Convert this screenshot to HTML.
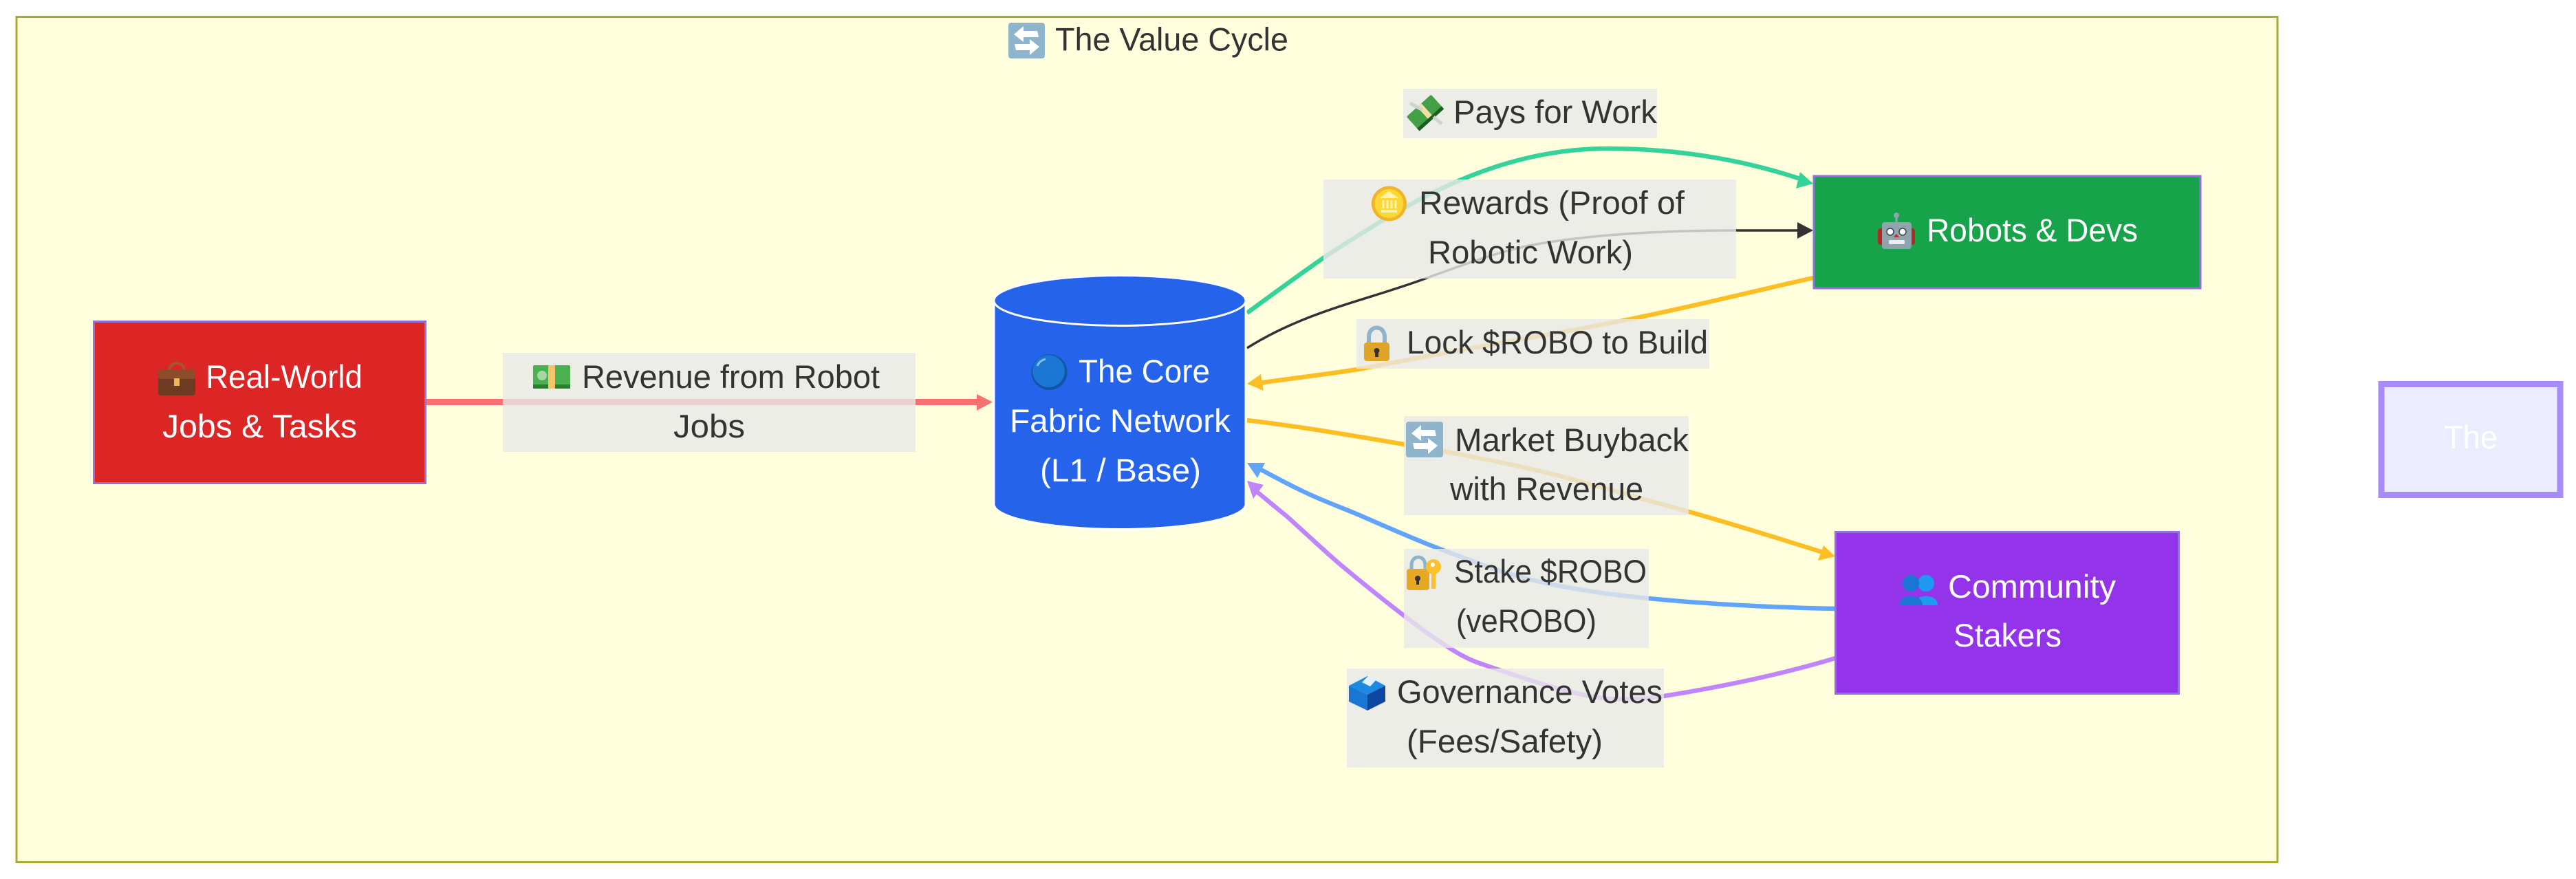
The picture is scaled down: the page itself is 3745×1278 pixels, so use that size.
<!DOCTYPE html>
<html>
<head>
<meta charset="utf-8">
<title>The Value Cycle</title>
<style>
html,body{margin:0;padding:0;background:#fff;width:3745px;height:1278px;overflow:hidden}
svg{display:block}
text{font-family:"Liberation Sans",sans-serif;font-size:47px}
.d{fill:#333}
.w{fill:#fff}
.l{fill:#e8e8e8;fill-opacity:.8}
.e{fill:none}
</style>
</head>
<body>
<svg xmlns="http://www.w3.org/2000/svg" width="3745" height="1278" viewBox="0 0 3745 1278">
<rect width="3745" height="1278" fill="#fff"/>
<!-- cluster -->
<rect x="24" y="24.500" width="3287" height="1229" fill="#ffffde" stroke="#aaaa33" stroke-width="3"/>

<!-- edges -->
<path class="e" stroke="#f87171" stroke-width="9" d="M619,584.500 L1424,584.500"/>
<polygon fill="#f87171" points="1443,584.500 1420,573 1420,597"/>

<path class="e" stroke="#34d399" stroke-width="6.500" d="M1813,455 C1850,428 1885,402 1924,375 C1991,331 2058,289 2125,261 C2196,231 2266,216 2337,216 C2431,216 2528,230 2620,261"/>
<polygon fill="#34d399" points="2636,267 2617,250 2611,274"/>

<path class="e" stroke="#333" stroke-width="3.500" d="M1813,506 C1899,452 1986,437 2072,405 C2130,384 2180,365 2229,356 C2300,343 2400,335 2524,335 L2615,335"/>
<polygon fill="#333" points="2636,335 2613,323 2613,347"/>

<path class="e" stroke="#fbbf24" stroke-width="6.500" d="M2636,404 C2547,424 2459,446 2370,464 C2240,490 2110,510 1980,536 C1932,544 1885,549 1830,557"/>
<polygon fill="#fbbf24" points="1813,558 1833,544 1837,568"/>

<path class="e" stroke="#fbbf24" stroke-width="6.500" d="M1813,611 C1889,620 1965,633 2041,646 C2103,656.500 2164,668 2226,682 C2284,695 2343,713 2401,729 C2484,751 2567,777 2650,803"/>
<polygon fill="#fbbf24" points="2668,809 2651,793 2643,815"/>

<path class="e" stroke="#60a5fa" stroke-width="6.500" d="M2668,885 C2578,883 2487,879 2397,870 C2340,864.600 2283,856.500 2226,843 C2182,832.600 2137,814.500 2093,798 C2056,784 2018,767 1981,751 C1954,739 1927,730 1900,717 C1876,706 1852,693 1828,680"/>
<polygon fill="#60a5fa" points="1813,673 1839,673 1828,695"/>

<path class="e" stroke="#c084fc" stroke-width="6.500" d="M2668,957 C2585,982 2502,998.700 2419,1012 C2385,1017.400 2351,1019 2317,1013 C2261,1003 2206,983 2150,964 C2136,959 2121,951 2107,942 C2085,928 2063,912 2041,895 C2011,872 1980,847 1950,822 C1923,799 1897,774 1870,750 C1855,738 1841,726 1826,714"/>
<polygon fill="#c084fc" points="1813,699 1837,705 1822,725"/>

<!-- edge labels -->
<rect class="l" x="731" y="513" width="600" height="144"/>
<rect class="l" x="2040" y="129" width="369" height="72"/>
<rect class="l" x="1924" y="261" width="600" height="144"/>
<rect class="l" x="1972" y="464" width="513" height="72"/>
<rect class="l" x="2041" y="605" width="414" height="144"/>
<rect class="l" x="2041" y="798" width="356" height="144"/>
<rect class="l" x="1958" y="972" width="461" height="144"/>

<!-- nodes -->
<rect x="136.500" y="467.500" width="482" height="235" fill="#dc2626" stroke="#9370db" stroke-width="3"/>
<path d="M1445,437 a183,36.500 0 0 0 366,0 a183,36.500 0 0 0 -366,0 l0,296 a183,36.500 0 0 0 366,0 l0,-296" fill="#2563eb" stroke="#fff" stroke-width="3"/>
<rect x="2637" y="256" width="562" height="163" fill="#16a34a" stroke="#9370db" stroke-width="3"/>
<rect x="2668.500" y="773.500" width="499" height="235" fill="#9333ea" stroke="#9370db" stroke-width="3"/>
<rect x="3462" y="558.500" width="260" height="161" fill="#ececff" stroke="#a78bfa" stroke-width="9"/>

<!-- text -->
<text class="d" x="1534" y="73.500" textLength="339" lengthAdjust="spacingAndGlyphs">The Value Cycle</text>

<text class="w" x="299" y="564" textLength="228" lengthAdjust="spacingAndGlyphs">Real-World</text>
<text class="w" x="236" y="636" textLength="283" lengthAdjust="spacingAndGlyphs">Jobs &amp; Tasks</text>

<text class="d" x="846" y="564" textLength="433" lengthAdjust="spacingAndGlyphs">Revenue from Robot</text>
<text class="d" x="979" y="636" textLength="104" lengthAdjust="spacingAndGlyphs">Jobs</text>

<text class="w" x="1568" y="556" textLength="191" lengthAdjust="spacingAndGlyphs">The Core</text>
<text class="w" x="1468" y="628" textLength="321" lengthAdjust="spacingAndGlyphs">Fabric Network</text>
<text class="w" x="1512" y="700" textLength="234" lengthAdjust="spacingAndGlyphs">(L1 / Base)</text>

<text class="d" x="2113" y="179" textLength="296" lengthAdjust="spacingAndGlyphs">Pays for Work</text>
<text class="d" x="2063" y="311" textLength="386" lengthAdjust="spacingAndGlyphs">Rewards (Proof of</text>
<text class="d" x="2076" y="383" textLength="298" lengthAdjust="spacingAndGlyphs">Robotic Work)</text>
<text class="d" x="2045" y="514" textLength="438" lengthAdjust="spacingAndGlyphs">Lock $ROBO to Build</text>
<text class="d" x="2115" y="656" textLength="340" lengthAdjust="spacingAndGlyphs">Market Buyback</text>
<text class="d" x="2108" y="727" textLength="281" lengthAdjust="spacingAndGlyphs">with Revenue</text>
<text class="d" x="2114" y="847" textLength="280" lengthAdjust="spacingAndGlyphs">Stake $ROBO</text>
<text class="d" x="2117" y="919" textLength="204" lengthAdjust="spacingAndGlyphs">(veROBO)</text>
<text class="d" x="2031" y="1022" textLength="386" lengthAdjust="spacingAndGlyphs">Governance Votes</text>
<text class="d" x="2045" y="1094" textLength="285" lengthAdjust="spacingAndGlyphs">(Fees/Safety)</text>

<text class="w" x="2801" y="351" textLength="307" lengthAdjust="spacingAndGlyphs">Robots &amp; Devs</text>
<text class="w" x="2832" y="869" textLength="244" lengthAdjust="spacingAndGlyphs">Community</text>
<text class="w" x="2840" y="940" textLength="157" lengthAdjust="spacingAndGlyphs">Stakers</text>
<text class="w" x="3553" y="652" textLength="78" lengthAdjust="spacingAndGlyphs">The</text>

<!-- emoji icons drawn as shapes -->
<!-- title arrows -->
<g>
<rect x="1466" y="33" width="53" height="52" rx="4" fill="#8fb5cc"/>
<path d="M1474,50 L1488,38 L1488,45 L1508,45 L1510,54 L1488,54 L1488,61 Z" fill="#fff"/>
<path d="M1511,68 L1497,80 L1497,73 L1477,73 L1475,64 L1497,64 L1497,57 Z" fill="#fff"/>
</g>
<!-- market arrows -->
<g transform="translate(2044,613)">
<rect width="54" height="52" rx="4" fill="#8fb5cc"/>
<path d="M8,17 L22,5 L22,12 L42,12 L44,21 L22,21 L22,28 Z" fill="#fff"/>
<path d="M46,35 L32,47 L32,40 L12,40 L10,31 L32,31 L32,24 Z" fill="#fff"/>
</g>
<!-- briefcase -->
<path d="M246,540 C246,524 268,524 268,540" fill="none" stroke="#a0592f" stroke-width="4"/>
<rect x="230" y="537" width="54" height="38" rx="4" fill="#6d3b22"/>
<rect x="230" y="537" width="54" height="14" rx="3" fill="#8b4c2a"/>
<rect x="253" y="550" width="8" height="11" fill="#f0b35e"/>
<!-- money -->
<rect x="775" y="531" width="54" height="34" rx="2" fill="#4caf50"/>
<rect x="775" y="559" width="54" height="6" fill="#2e7d32"/>
<rect x="797" y="531" width="10" height="34" fill="#f5c46b"/>
<circle cx="788" cy="546" r="7" fill="#a5d6a7"/>
<!-- blue circle -->
<circle cx="1525.500" cy="541" r="26" fill="#1452a3"/>
<circle cx="1524.500" cy="539.500" r="23.500" fill="#1976d2"/>
<path d="M1508,532 A18,18 0 0 1 1520,522" fill="none" stroke="#8ab8ea" stroke-width="3"/>
<!-- flying money -->
<g transform="translate(2072,164) rotate(-42)">
<rect x="-24" y="-14" width="48" height="28" rx="2" fill="#43a047"/>
<rect x="-3" y="-14" width="8" height="28" fill="#f3dfa4"/>
<rect x="-24" y="9" width="48" height="5" fill="#1b5e20"/>
</g>
<path d="M2050,150 L2068,160 M2096,180 L2084,170" stroke="#cfd2ce" stroke-width="5"/>
<!-- coin -->
<circle cx="2019.500" cy="296" r="25.500" fill="#f0b429"/>
<circle cx="2019.500" cy="296" r="21" fill="#fdd835"/>
<path d="M2006,288 L2019.500,278 L2033,288 Z M2008,305 h23 v4 h-23 Z" fill="#fff3b0"/>
<path d="M2011,291 v12 M2017,291 v12 M2023,291 v12 M2029,291 v12" stroke="#fff3b0" stroke-width="3"/>
<!-- lock -->
<path d="M1990,500 V490 C1990,472 2013,472 2013,490 V500" fill="none" stroke="#8db4cc" stroke-width="6"/>
<rect x="1983" y="498" width="37" height="27" rx="4" fill="#e0a526"/>
<circle cx="2001.500" cy="510" r="4" fill="#333"/>
<rect x="1999" y="510" width="5" height="9" fill="#333"/>
<!-- lock with key -->
<path d="M2052,830 V822 C2052,806 2072,806 2072,822 V830" fill="none" stroke="#8db4cc" stroke-width="5"/>
<rect x="2045" y="827" width="33" height="31" rx="4" fill="#e6a823"/>
<circle cx="2061" cy="841" r="4" fill="#333"/>
<rect x="2059" y="841" width="4" height="9" fill="#333"/>
<circle cx="2084" cy="824" r="11" fill="#fbc02d"/>
<rect x="2081" y="830" width="6" height="26" fill="#fbc02d"/>
<circle cx="2083" cy="821" r="3" fill="#fff"/>
<!-- ballot box -->
<polygon points="1961,997 1988,983 2014,997 1988,1010" fill="#1e88e5"/>
<polygon points="1961,997 1988,1010 1988,1033 1961,1020" fill="#1976d2"/>
<polygon points="2014,997 1988,1010 1988,1033 2014,1020" fill="#0d47a1"/>
<polygon points="1980,992 1990,982 2002,987 1992,998" fill="#e3f2fd"/>
<!-- robot -->
<rect x="2730" y="332" width="10" height="24" rx="4" fill="#b02a25"/>
<rect x="2774" y="332" width="10" height="24" rx="4" fill="#b02a25"/>
<path d="M2757,312 V324" stroke="#90a4ae" stroke-width="3"/>
<circle cx="2757" cy="313" r="4" fill="#90a4ae"/>
<rect x="2736" y="323" width="43" height="39" rx="4" fill="#90a4ae"/>
<circle cx="2748" cy="337" r="5" fill="#fff" stroke="#37474f" stroke-width="1.500"/>
<circle cx="2766" cy="337" r="5" fill="#fff" stroke="#37474f" stroke-width="1.500"/>
<polygon points="2757,340 2753,345 2761,345" fill="#c62828"/>
<rect x="2746" y="349" width="23" height="6" rx="2" fill="#eceff1"/>
<!-- people -->
<circle cx="2800" cy="848" r="12" fill="#1e9bf0"/>
<path d="M2783,880 C2783,862 2817,862 2817,880 Z" fill="#1e9bf0"/>
<circle cx="2778" cy="848" r="12" fill="#1976d2"/>
<path d="M2761,880 C2761,862 2795,862 2795,880 Z" fill="#1976d2"/>
</svg>
</body>
</html>
